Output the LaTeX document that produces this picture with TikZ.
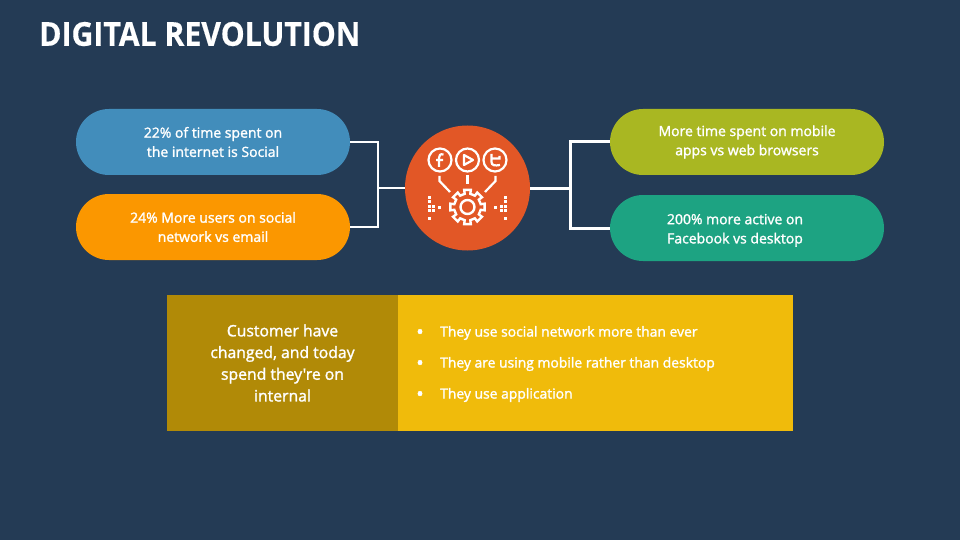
\documentclass[tikz,border=0pt]{standalone}
\usepackage{fontspec}
\usetikzlibrary{shapes.misc}
\setmainfont{Open Sans}
\newfontfamily\titlefont[FakeStretch=0.915,FakeBold=0.4]{Open Sans Bold}
\newfontfamily\bodyfont[FakeBold=1.6]{Open Sans}
\definecolor{bgnavy}{HTML}{243B55}
\definecolor{pillblue}{HTML}{428DBB}
\definecolor{pillorange}{HTML}{FB9700}
\definecolor{pillgreen}{HTML}{A9B722}
\definecolor{pillteal}{HTML}{1DA382}
\definecolor{hubred}{HTML}{E25726}
\definecolor{boxdark}{HTML}{B18A07}
\definecolor{boxgold}{HTML}{F0BB0B}
\begin{document}
\begin{tikzpicture}[x=1pt,y=-1pt]
        \tikzstyle{pill}=[rounded rectangle,minimum width=274pt,minimum height=66pt,inner sep=0pt,text=white,align=center,font=\fontsize{14}{19.2}\bodyfont]
        \tikzstyle{link}=[draw=white,line width=2.4pt]
        \tikzstyle{linkb}=[draw=white,line width=3pt]
        \tikzstyle{icon}=[draw=white,line width=2.2pt,fill=none]
        \tikzstyle{dot}=[fill=white]
        \fill[bgnavy] (0,0) rectangle (960,540);
        \useasboundingbox (0,0) rectangle (960,540);
        \node[anchor=west,inner sep=0pt,text=white,font=\fontsize{33}{36}\titlefont] (title) at (39,34) {DIGITAL REVOLUTION};
        \node[pill,fill=pillblue] (social) at (213,142) {22\% of time spent on\\the internet is Social};
        \node[pill,fill=pillorange] (users) at (213,227) {24\% More users on social\\network vs email};
        \node[pill,fill=pillgreen] (mobile) at (747,142) {More time spent on mobile\\apps vs web browsers};
        \node[pill,fill=pillteal] (active) at (747,228) {\rule{0pt}{15pt}200\% more active on\hspace*{24pt}\\Facebook vs desktop\hspace*{24pt}};
        \coordinate (ljoin) at (378,188);
        \coordinate (rjoin) at (570.5,188);
        \path[link] (social.east) -| (ljoin);
        \path[link] (users.east) -| (ljoin);
        \path[linkb] (mobile.west) -| (rjoin);
        \path[linkb] (active.west) -| (rjoin);
        \node[circle,fill=hubred,minimum size=125pt,inner sep=0pt] (hub) at (467.5,188) {};
        \path[link] (ljoin) -- (hub);
        \path[linkb] (hub) -- (rjoin);
        % icons
        \node[circle,icon,minimum size=23pt,inner sep=0pt] (fb) at (440,160) {};
        \node[circle,icon,minimum size=23pt,inner sep=0pt] (play) at (467.5,160) {};
        \node[circle,icon,minimum size=23pt,inner sep=0pt] (tw) at (495,160) {};
        \node[circle,icon,minimum size=14pt,inner sep=0pt,line width=2.4pt] (gear) at (467.5,207) {};
        \draw[icon] (443.5,154.5) .. controls (440,153.5) and (439,155.5) .. (439,158) -- (439,167) (436,160) -- (443,160);
        \draw[icon,line join=round] (464,155) -- (473,160) -- (464,165) -- cycle;
        \draw[icon] (491.5,154) -- (491.5,162) .. controls (491.5,165.5) and (495,166) .. (500,165) (491.5,158.5) -- (499.5,158.5) -- (499.5,156);
        \draw[icon] (439.5,176) -- (439.5,181) -- (450,192);
        \draw[icon,line width=2.6pt] (467.5,175) -- (467.5,184);
        \draw[icon] (495.5,176) -- (495.5,181) -- (485,192);
        \draw[icon,line width=2.4pt,line join=miter,shift={(467.5,207)}] (-13:13.5)
          \foreach \a in {0,45,...,315} {
            -- (\a-12:13.5) -- (\a-11:17.5) -- (\a+11:17.5) -- (\a+12:13.5)
          } -- cycle;
        \foreach \x/\y in {429/197,429/201.5,429/206,429/210,429/218,433/206,433/210,439/207} {
          \fill[dot] (\x-1.5,\y-1.5) rectangle (\x+1.5,\y+1.5);
        }
        \foreach \x/\y in {505.5/197,505.5/201.5,505.5/206,505.5/210,505.5/218,501/206,501/210,495/207} {
          \fill[dot] (\x-1.5,\y-1.5) rectangle (\x+1.5,\y+1.5);
        }
        % lower panel
        \node[fill=boxdark,minimum width=231pt,minimum height=136pt,inner sep=0pt,text=white,align=center,font=\fontsize{15.75}{21.7}\bodyfont] (claim) at (282.5,363) {Customer have\\changed, and today\\spend they're on\\internal};
        \node[fill=boxgold,minimum width=395pt,minimum height=136pt,inner sep=0pt] (facts) at (595.5,363) {};
        \tikzstyle{fact}=[anchor=west,inner sep=0pt,text=white,font=\fontsize{13.9}{17}\bodyfont]
        \tikzstyle{bullet}=[anchor=center,inner sep=0pt,text=white,font=\fontsize{20}{20}\bodyfont]
        \node[bullet] (fa) at (420,334) {•};
        \node[bullet] (fb2) at (420,365) {•};
        \node[bullet] (fc) at (420,396) {•};
        \node[fact] (ta) at (440,333) {They use social network more than ever};
        \node[fact] (tb) at (440,364) {They are using mobile rather than desktop};
        \node[fact] (tc) at (440,395) {They use application};
\end{tikzpicture}
\end{document}
